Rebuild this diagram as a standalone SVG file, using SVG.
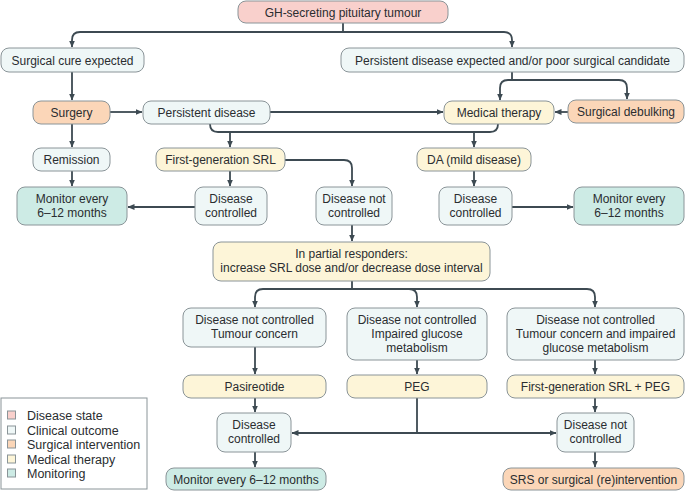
<svg xmlns="http://www.w3.org/2000/svg" width="685" height="491" viewBox="0 0 685 491">
<defs>
<style>
text{font-family:"Liberation Sans",Arial,sans-serif;font-size:12px;fill:#2a2d30;text-anchor:middle}
.b{stroke:#8a9498;stroke-width:1}
.ds{fill:#f9d0cc}
.co{fill:#eff7f7}
.si{fill:#fbd6b8}
.mt{fill:#fdf5d8}
.mo{fill:#cdebe5}
.c path{fill:none;stroke:#3d4a52;stroke-width:1.8}
.lg text{text-anchor:start;font-size:12.5px}
</style>
<marker id="a" viewBox="0 0 7 7" refX="6.5" refY="3.5" markerWidth="7" markerHeight="7" markerUnits="userSpaceOnUse" orient="auto">
<path d="M0,0.5 L7,3.5 L0,6.5 z" fill="#3d4a52"/>
</marker>
</defs>
<rect width="685" height="491" fill="#ffffff"/>

<g class="c">
<path d="M343,23 V32 H80 Q72,32 72,40 V47" marker-end="url(#a)"/>
<path d="M343,32 H504 Q512,32 512,40 V47" marker-end="url(#a)"/>
<path d="M512,72 V80 H508 Q500,80 500,88 V100" marker-end="url(#a)"/>
<path d="M512,80 H619 Q627,80 627,88 V99" marker-end="url(#a)"/>
<path d="M72,72 V100" marker-end="url(#a)"/>
<path d="M110,112 H142" marker-end="url(#a)"/>
<path d="M270,112 H443" marker-end="url(#a)"/>
<path d="M568,112 H555" marker-end="url(#a)"/>
<path d="M210,124 Q210,132 218,132 H490 Q498,132 498,124"/>
<path d="M230,132 V147" marker-end="url(#a)"/>
<path d="M474,132 V147" marker-end="url(#a)"/>
<path d="M72,124 V147" marker-end="url(#a)"/>
<path d="M72,171 V186" marker-end="url(#a)"/>
<path d="M230,171 V186" marker-end="url(#a)"/>
<path d="M195,207 H128" marker-end="url(#a)"/>
<path d="M285,160 H344 Q352,160 352,168 V186" marker-end="url(#a)"/>
<path d="M474,171 V186" marker-end="url(#a)"/>
<path d="M512,207 H573" marker-end="url(#a)"/>
<path d="M352,225 V241" marker-end="url(#a)"/>
<path d="M352,281 V289 H263 Q255,289 255,297 V307" marker-end="url(#a)"/>
<path d="M352,289 H409 Q417,289 417,297 V307" marker-end="url(#a)"/>
<path d="M409,289 H587 Q595,289 595,297 V307" marker-end="url(#a)"/>
<path d="M255,347 V374" marker-end="url(#a)"/>
<path d="M417,360 V374" marker-end="url(#a)"/>
<path d="M595,360 V374" marker-end="url(#a)"/>
<path d="M255,398 V412" marker-end="url(#a)"/>
<path d="M417,398 V433 H292" marker-end="url(#a)"/>
<path d="M417,433 H556" marker-end="url(#a)"/>
<path d="M595,398 V412" marker-end="url(#a)"/>
<path d="M255,452 V467" marker-end="url(#a)"/>
<path d="M595,452 V467" marker-end="url(#a)"/>
</g>

<g id="n-tumour"><rect class="b ds" x="238" y="1" width="210" height="22" rx="8"/><text x="343" y="16.5">GH-secreting pituitary tumour</text></g>
<g id="n-cure"><rect class="b co" x="1" y="48" width="143" height="24" rx="8"/><text x="72.5" y="64.5">Surgical cure expected</text></g>
<g id="n-persist-exp"><rect class="b co" x="341" y="48" width="343" height="24" rx="8"/><text x="512.5" y="64.5">Persistent disease expected and/or poor surgical candidate</text></g>
<g id="n-surgery"><rect class="b si" x="33" y="101" width="77" height="23" rx="8"/><text x="71.5" y="116.5">Surgery</text></g>
<g id="n-persist"><rect class="b co" x="143" y="101" width="127" height="23" rx="8"/><text x="206.5" y="116.5">Persistent disease</text></g>
<g id="n-medical"><rect class="b mt" x="444" y="101" width="110" height="23" rx="8"/><text x="499" y="116.5">Medical therapy</text></g>
<g id="n-debulk"><rect class="b si" x="568" y="100" width="116" height="23" rx="8"/><text x="626" y="115.5">Surgical debulking</text></g>
<g id="n-remission"><rect class="b co" x="33" y="148" width="77" height="23" rx="8"/><text x="71.5" y="163.5">Remission</text></g>
<g id="n-srl"><rect class="b mt" x="156" y="148" width="129" height="23" rx="8"/><text x="220.5" y="163.5">First-generation SRL</text></g>
<g id="n-da"><rect class="b mt" x="417" y="148" width="114" height="23" rx="8"/><text x="474" y="163.5">DA (mild disease)</text></g>
<g id="n-mon1"><rect class="b mo" x="17" y="187" width="110" height="38" rx="8"/><text x="72" y="203">Monitor every</text><text x="72" y="217">6–12 months</text></g>
<g id="n-ctrl1"><rect class="b co" x="195" y="187" width="72" height="38" rx="8"/><text x="231" y="203">Disease</text><text x="231" y="217">controlled</text></g>
<g id="n-notctrl1"><rect class="b co" x="316" y="187" width="76" height="38" rx="8"/><text x="354" y="203">Disease not</text><text x="354" y="217">controlled</text></g>
<g id="n-ctrl2"><rect class="b co" x="439" y="187" width="73" height="38" rx="8"/><text x="475.5" y="203">Disease</text><text x="475.5" y="217">controlled</text></g>
<g id="n-mon2"><rect class="b mo" x="574" y="187" width="110" height="38" rx="8"/><text x="629" y="203">Monitor every</text><text x="629" y="217">6–12 months</text></g>
<g id="n-partial"><rect class="b mt" x="213" y="242" width="277" height="39" rx="8"/><text x="351.5" y="258">In partial responders:</text><text x="351.5" y="272">increase SRL dose and/or decrease dose interval</text></g>
<g id="n-nc-tumour"><rect class="b co" x="183" y="308" width="143" height="39" rx="8"/><text x="254.5" y="324">Disease not controlled</text><text x="254.5" y="338">Tumour concern</text></g>
<g id="n-nc-glucose"><rect class="b co" x="347" y="308" width="140" height="52" rx="8"/><text x="417" y="324">Disease not controlled</text><text x="417" y="338">Impaired glucose</text><text x="417" y="352">metabolism</text></g>
<g id="n-nc-both"><rect class="b co" x="507" y="308" width="177" height="52" rx="8"/><text x="595.5" y="324">Disease not controlled</text><text x="595.5" y="338">Tumour concern and impaired</text><text x="595.5" y="352">glucose metabolism</text></g>
<g id="n-pasireotide"><rect class="b mt" x="183" y="375" width="143" height="23" rx="8"/><text x="254.5" y="390.5">Pasireotide</text></g>
<g id="n-peg"><rect class="b mt" x="347" y="375" width="140" height="23" rx="8"/><text x="417" y="390.5">PEG</text></g>
<g id="n-srlpeg"><rect class="b mt" x="507" y="375" width="177" height="23" rx="8"/><text x="595.5" y="390.5">First-generation SRL + PEG</text></g>
<g id="n-ctrl3"><rect class="b co" x="217" y="413" width="74" height="39" rx="8"/><text x="254" y="429">Disease</text><text x="254" y="443">controlled</text></g>
<g id="n-notctrl3"><rect class="b co" x="557" y="413" width="77" height="39" rx="8"/><text x="595.5" y="429">Disease not</text><text x="595.5" y="443">controlled</text></g>
<g id="n-mon3"><rect class="b mo" x="166" y="468" width="160" height="22" rx="8"/><text x="246" y="483.5">Monitor every 6–12 months</text></g>
<g id="n-srs"><rect class="b si" x="503" y="468" width="181" height="22" rx="8"/><text x="593.5" y="483.5">SRS or surgical (re)intervention</text></g>

<g id="legend" class="lg">
<rect x="1" y="398" width="146" height="91" fill="#ffffff" stroke="#8a9498" stroke-width="1"/>
<rect class="b ds" x="7.5" y="411" width="8" height="8"/><text x="27" y="419.5">Disease state</text>
<rect class="b co" x="7.5" y="426" width="8" height="8"/><text x="27" y="434.5">Clinical outcome</text>
<rect class="b si" x="7.5" y="440" width="8" height="8"/><text x="27" y="448.5">Surgical intervention</text>
<rect class="b mt" x="7.5" y="455" width="8" height="8"/><text x="27" y="463.5">Medical therapy</text>
<rect class="b mo" x="7.5" y="469" width="8" height="8"/><text x="27" y="477.5">Monitoring</text>
</g>
</svg>
